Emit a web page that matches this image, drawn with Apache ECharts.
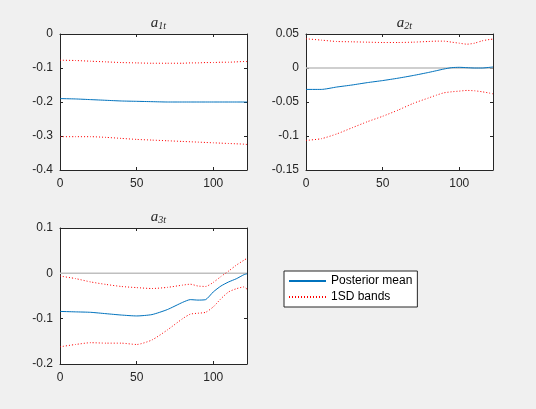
<!DOCTYPE html>
<html>
<head>
<meta charset="UTF-8">
<title>Posterior mean and 1SD bands</title>
<script src="https://cdn.jsdelivr.net/npm/echarts@6/dist/echarts.min.js"></script>
<style>
  html, body { margin: 0; padding: 0; background: #f0f0f0; }
  #main { width: 536px; height: 409px; }
</style>
</head>
<body>
<div id="main"></div>
<script>
// sample points along t
var t = [0, 10, 20, 30, 40, 50, 60, 70, 80, 85, 90, 95, 100, 105, 110, 115, 120, 122];

// a_1t
var upper1 = [-0.077, -0.078, -0.080, -0.082, -0.084, -0.085, -0.086, -0.086, -0.086, -0.085, -0.085, -0.084, -0.084, -0.083, -0.083, -0.082, -0.081, -0.081];
var mean1  = [-0.190, -0.191, -0.193, -0.195, -0.197, -0.198, -0.199, -0.200, -0.200, -0.200, -0.200, -0.200, -0.200, -0.200, -0.200, -0.200, -0.200, -0.200];
var lower1 = [-0.302, -0.302, -0.302, -0.304, -0.307, -0.310, -0.312, -0.314, -0.316, -0.317, -0.318, -0.319, -0.320, -0.321, -0.322, -0.323, -0.324, -0.325];

// a_2t
var upper2 = [0.043, 0.041, 0.039, 0.0385, 0.038, 0.0375, 0.0375, 0.038, 0.039, 0.0395, 0.0395, 0.038, 0.0365, 0.035, 0.0365, 0.040, 0.042, 0.0425];
var mean2  = [-0.0315, -0.0315, -0.028, -0.025, -0.0215, -0.0185, -0.015, -0.011, -0.0065, -0.004, -0.0015, 0.0005, 0.001, 0.0005, 0, 0, 0.001, 0.0015];
var lower2 = [-0.1065, -0.104, -0.097, -0.088, -0.079, -0.071, -0.062, -0.052, -0.044, -0.040, -0.0365, -0.035, -0.034, -0.033, -0.0335, -0.035, -0.037, -0.038];

// a_3t
var upper3 = [-0.006, -0.0115, -0.019, -0.0245, -0.029, -0.0315, -0.0335, -0.031, -0.026, -0.024, -0.028, -0.029, -0.020, -0.007, 0.005, 0.018, 0.029, 0.033];
var mean3  = [-0.084, -0.085, -0.086, -0.089, -0.092, -0.094, -0.091, -0.080, -0.064, -0.058, -0.059, -0.058, -0.041, -0.028, -0.019, -0.012, -0.003, -0.001];
var lower3 = [-0.162, -0.157, -0.153, -0.154, -0.154, -0.157, -0.147, -0.125, -0.100, -0.090, -0.088, -0.086, -0.074, -0.056, -0.041, -0.034, -0.030, -0.035];

// axes
var xMax = 122, xStep = 50;
var yMin  = [-0.4, -0.15, -0.2];
var yMax  = [0, 0.05, 0.1];
var yStep = [0.1, 0.05, 0.1];
var subs  = ['1t', '2t', '3t'];
var zeroLine = [false, true, true];

var means = [mean1, mean2, mean3];
var uppers = [upper1, upper2, upper3];
var lowers = [lower1, lower2, lower3];

var grids = [
  { left: 60, top: 34, width: 187, height: 136 },
  { left: 306, top: 34, width: 187, height: 136 },
  { left: 60, top: 228, width: 187, height: 136 }
];

var ink = '#262626';
var font = 'Liberation Sans, Arial, sans-serif';
var serif = 'Liberation Serif, Times New Roman, serif';

function pairs(ys) {
  return t.map(function (x, i) { return [x, ys[i]]; });
}

var option = {
  backgroundColor: '#f0f0f0',
  animation: false,
  title: [],
  grid: [],
  xAxis: [],
  yAxis: [],
  series: [],
  legend: {
    orient: 'vertical',
    left: 284,
    top: 271,
    padding: [4, 5, 4, 4],
    itemWidth: 37,
    itemHeight: 12,
    itemGap: 4,
    backgroundColor: '#fff',
    borderColor: ink,
    borderWidth: 1,
    borderRadius: 0,
    itemStyle: { opacity: 0 },
    data: ['Posterior mean', '1SD bands'],
    textStyle: { fontFamily: font, fontSize: 12, color: '#000' }
  }
};

for (var g = 0; g < 3; g++) {
  var gr = grids[g];
  option.grid.push({
    left: gr.left, top: gr.top, width: gr.width, height: gr.height,
    show: true, backgroundColor: '#fff', borderWidth: 0
  });

  option.title.push({
    text: '{i|a}{s|' + subs[g] + '}',
    left: gr.left + gr.width / 2,
    top: gr.top - 26,
    textAlign: 'center',
    textStyle: {
      fontWeight: 'normal',
      rich: {
        i: { fontFamily: serif, fontStyle: 'italic', fontWeight: 'normal', fontSize: 15, color: ink, lineHeight: 18, verticalAlign: 'bottom' },
        s: { fontFamily: serif, fontStyle: 'italic', fontWeight: 'normal', fontSize: 10, color: ink, lineHeight: 10, verticalAlign: 'bottom' }
      }
    }
  });

  // bottom and top x axes
  [false, true].forEach(function (mirror) {
    option.xAxis.push({
      type: 'value', gridIndex: g, position: mirror ? 'top' : 'bottom',
      min: 0, max: xMax, interval: xStep,
      axisLine: { onZero: false, lineStyle: { color: ink, width: 1 } },
      axisTick: { inside: true, length: 3, lineStyle: { color: ink } },
      axisLabel: {
        show: !mirror, margin: 8, color: ink, fontFamily: font, fontSize: 12,
        showMaxLabel: false,
        formatter: function (v) { return v % xStep === 0 ? String(v) : ''; }
      },
      splitLine: { show: false }
    });
  });

  // left and right y axes
  [false, true].forEach(function (mirror) {
    option.yAxis.push({
      type: 'value', gridIndex: g, position: mirror ? 'right' : 'left',
      min: yMin[g], max: yMax[g], interval: yStep[g],
      axisLine: { onZero: false, lineStyle: { color: ink, width: 1 } },
      axisTick: { inside: true, length: 3, lineStyle: { color: ink } },
      axisLabel: { show: !mirror, margin: 7, color: ink, fontFamily: font, fontSize: 12 },
      splitLine: { show: false }
    });
  });

  var xi = g * 2, yi = g * 2;

  if (zeroLine[g]) {
    option.series.push({
      name: 'zero', type: 'line', xAxisIndex: xi, yAxisIndex: yi,
      data: [[t[0], 0], [t[t.length - 1], 0]],
      symbol: 'none', silent: true, z: 1,
      lineStyle: { color: '#bfbfbf', width: 1.5 }
    });
  }

  option.series.push({
    name: 'Posterior mean', type: 'line', xAxisIndex: xi, yAxisIndex: yi,
    data: pairs(means[g]), symbol: 'none', smooth: 0.2, z: 3,
    itemStyle: { color: '#0072bd' },
    lineStyle: { color: '#0072bd', width: 1 }
  });
  [uppers[g], lowers[g]].forEach(function (band) {
    option.series.push({
      name: '1SD bands', type: 'line', xAxisIndex: xi, yAxisIndex: yi,
      data: pairs(band), symbol: 'none', smooth: 0.2, z: 2,
      itemStyle: { color: '#ff0000' },
      lineStyle: { color: '#ff0000', width: 1, type: [1, 2] }
    });
  });
}

var chart = echarts.init(document.getElementById('main'));
chart.setOption(option);
</script>
</body>
</html>
